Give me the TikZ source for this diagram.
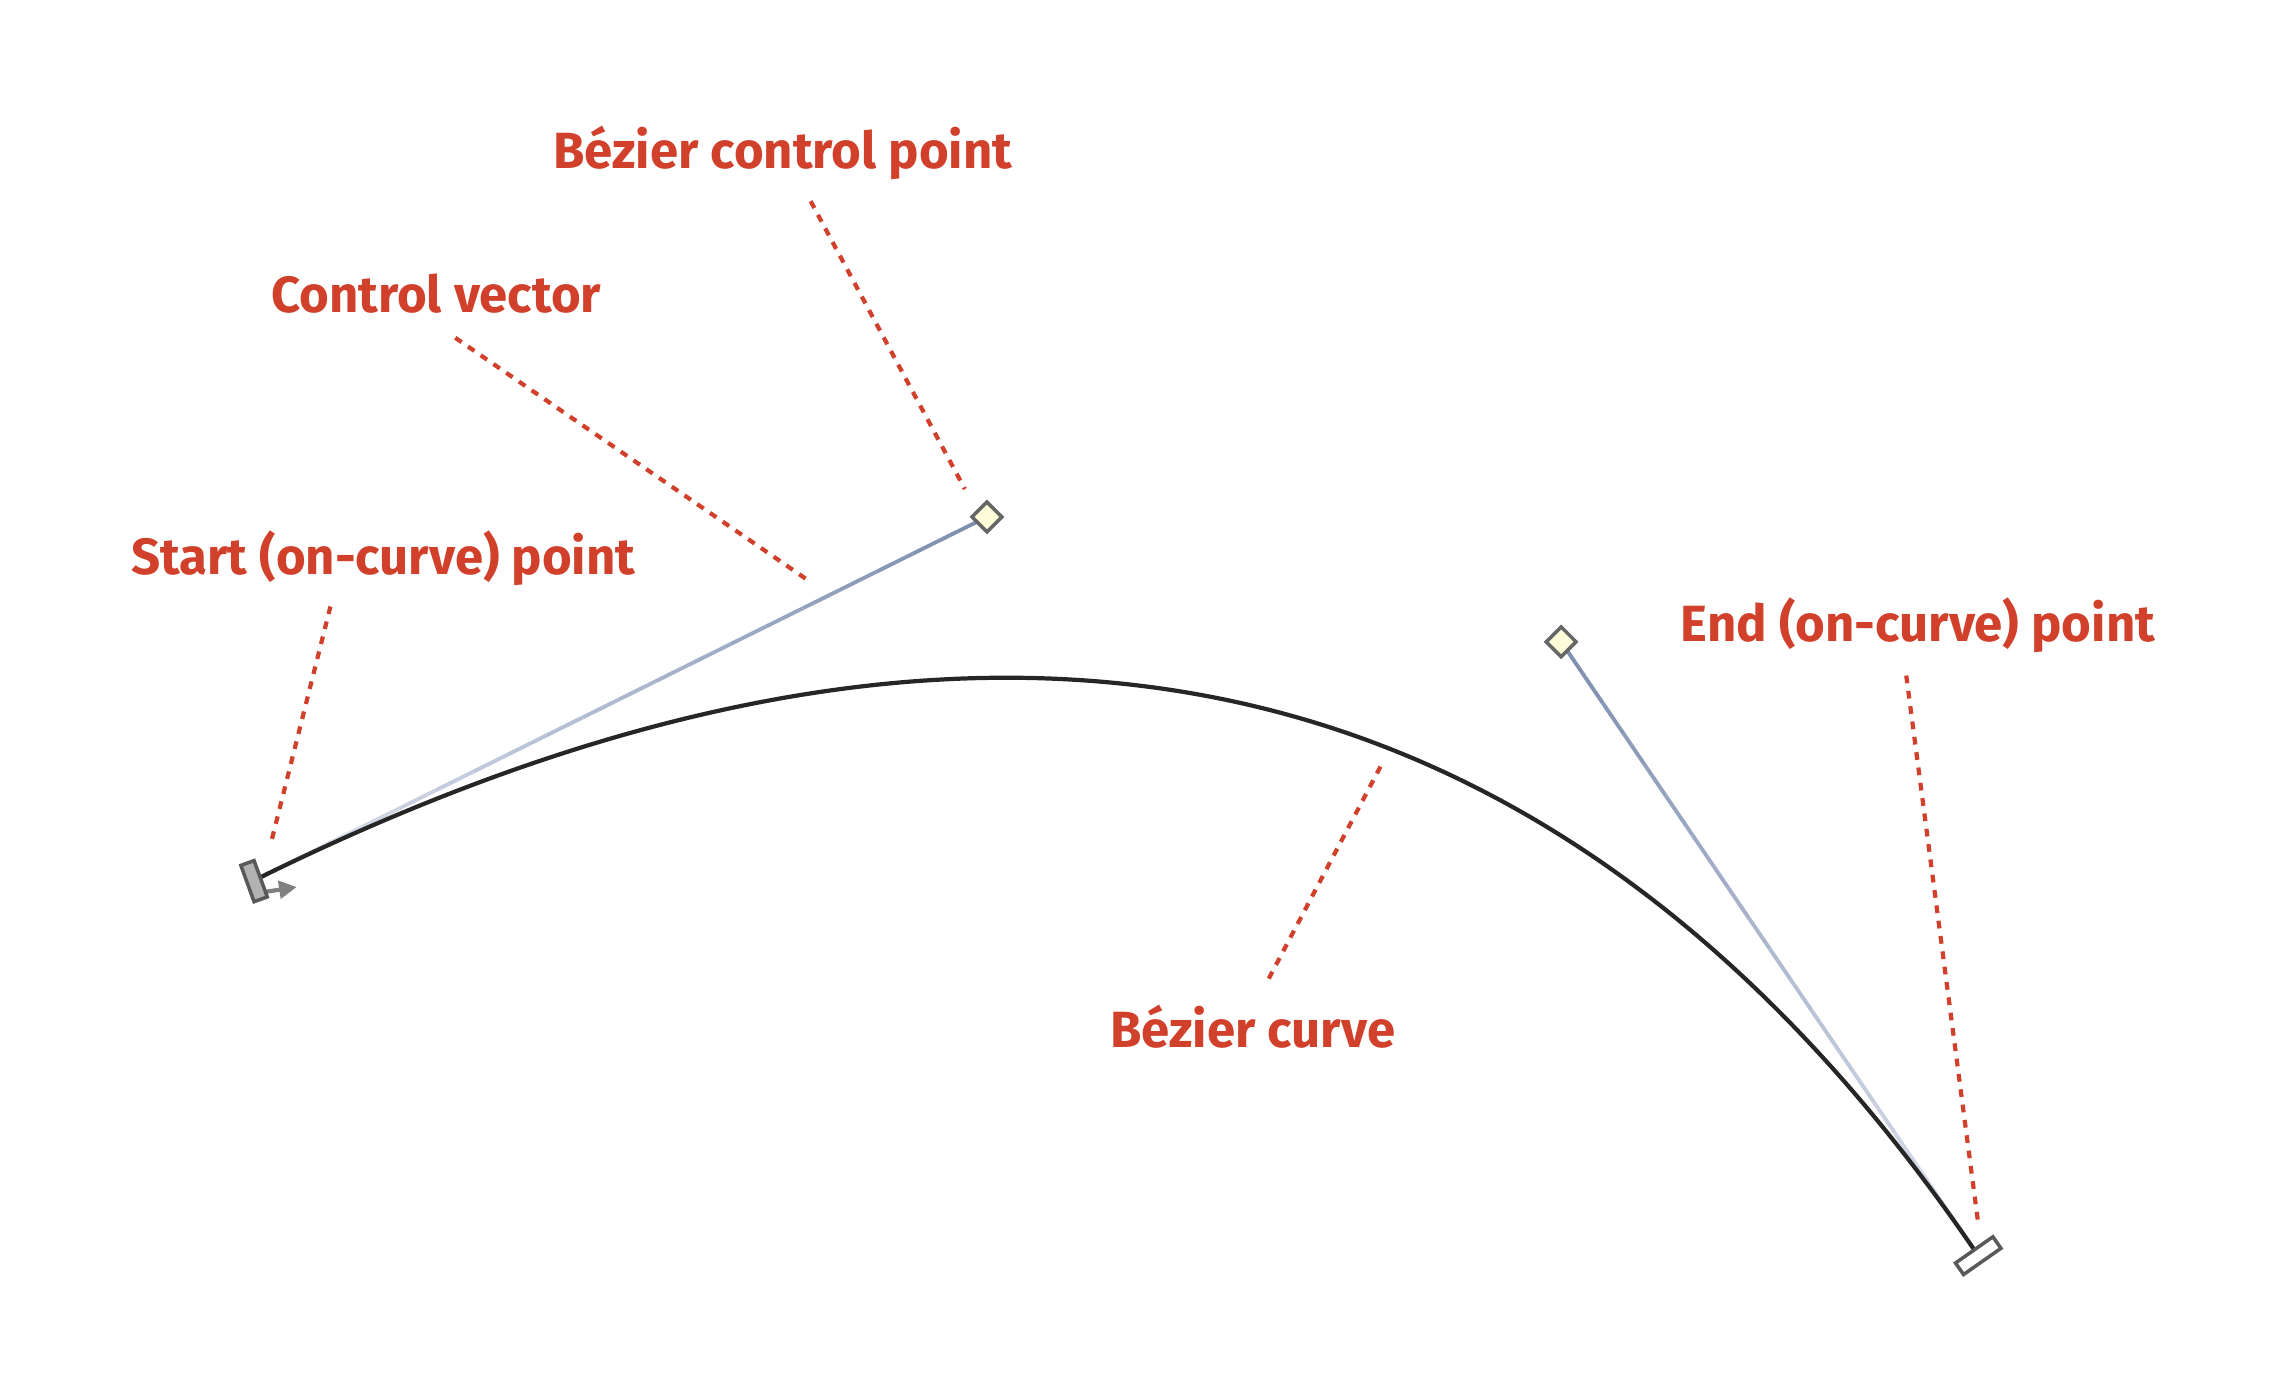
\documentclass[tikz,border=0pt]{standalone}
\usepackage{fontspec}
\setmainfont{Fira Sans}
\usetikzlibrary{arrows.meta,calc}
\definecolor{lab}{HTML}{D0402A}
\definecolor{hand}{HTML}{7F8FB0}
\definecolor{handl}{HTML}{DDE3EE}
\begin{document}
\begin{tikzpicture}[x=0.01469cm,y=-0.01469cm,
  lbl/.style={text=lab,font=\bfseries\fontsize{14.5}{17}\selectfont,inner sep=0pt},
  lead/.style={draw=lab,line width=1.2pt,dash pattern=on 2.2pt off 2.2pt},
  ctrl/.style={draw=gray!80!black,fill=yellow!15,line width=1pt,minimum size=6pt,inner sep=0pt,rotate=45}]
\useasboundingbox (0,0) rectangle (1560,936);
\coordinate (s) at (172,600);
\coordinate (c1) at (672,352);
\coordinate (c2) at (1063,437);
\coordinate (e) at (1347,855);
% handles with gradient
\foreach \i in {0,...,19}{
  \pgfmathsetmacro{\a}{\i/20}\pgfmathsetmacro{\b}{(\i+1)/20}
  \pgfmathsetmacro{\m}{100*(\i/19)}
  \draw[hand!\m!handl,line width=1.1pt] ($(s)!\a!(c1)$) -- ($(s)!\b!(c1)$);
  \draw[hand!\m!handl,line width=1.1pt] ($(e)!\a!(c2)$) -- ($(e)!\b!(c2)$);
}
\draw[black!85,line width=1.2pt] (s) .. controls (c1) and (c2) .. (e);
\node[ctrl] (n1) at (c1) {};
\node[ctrl] (n2) at (c2) {};
% start marker
\draw[-{Triangle[length=5pt,width=5pt]},gray,line width=1.2pt] (176,608) -- (202,604);
\node[draw=gray!70!black,fill=gray!60,line width=1pt,minimum width=4pt,minimum height=11pt,inner sep=0pt,rotate=20] (sm) at (173,600) {};
% end marker
\node[draw=gray!70!black,fill=white,line width=1pt,minimum width=13pt,minimum height=4pt,inner sep=0pt,rotate=35] (em) at (1347,855) {};
% labels
\node[lbl] (l1) at (533,104) {Bézier control point};
\node[lbl] (l2) at (297,200) {Control vector};
\node[lbl] (l3) at (261,380) {Start (on-curve) point};
\node[lbl] (l4) at (1306,426) {End (on-curve) point};
\node[lbl] (l5) at (853,699) {Bézier curve};
\coordinate (a1) at (552,137); \coordinate (b1) at (657,333);
\coordinate (a2) at (310,230); \coordinate (b2) at (550,395);
\coordinate (a3) at (225,413); \coordinate (b3) at (185,572);
\coordinate (a4) at (1298,460); \coordinate (b4) at (1347,833);
\coordinate (a5) at (940,522); \coordinate (b5) at (862,670);
\foreach \k in {1,...,5}{\draw[lead] (a\k) -- (b\k);}
\end{tikzpicture}
\end{document}
